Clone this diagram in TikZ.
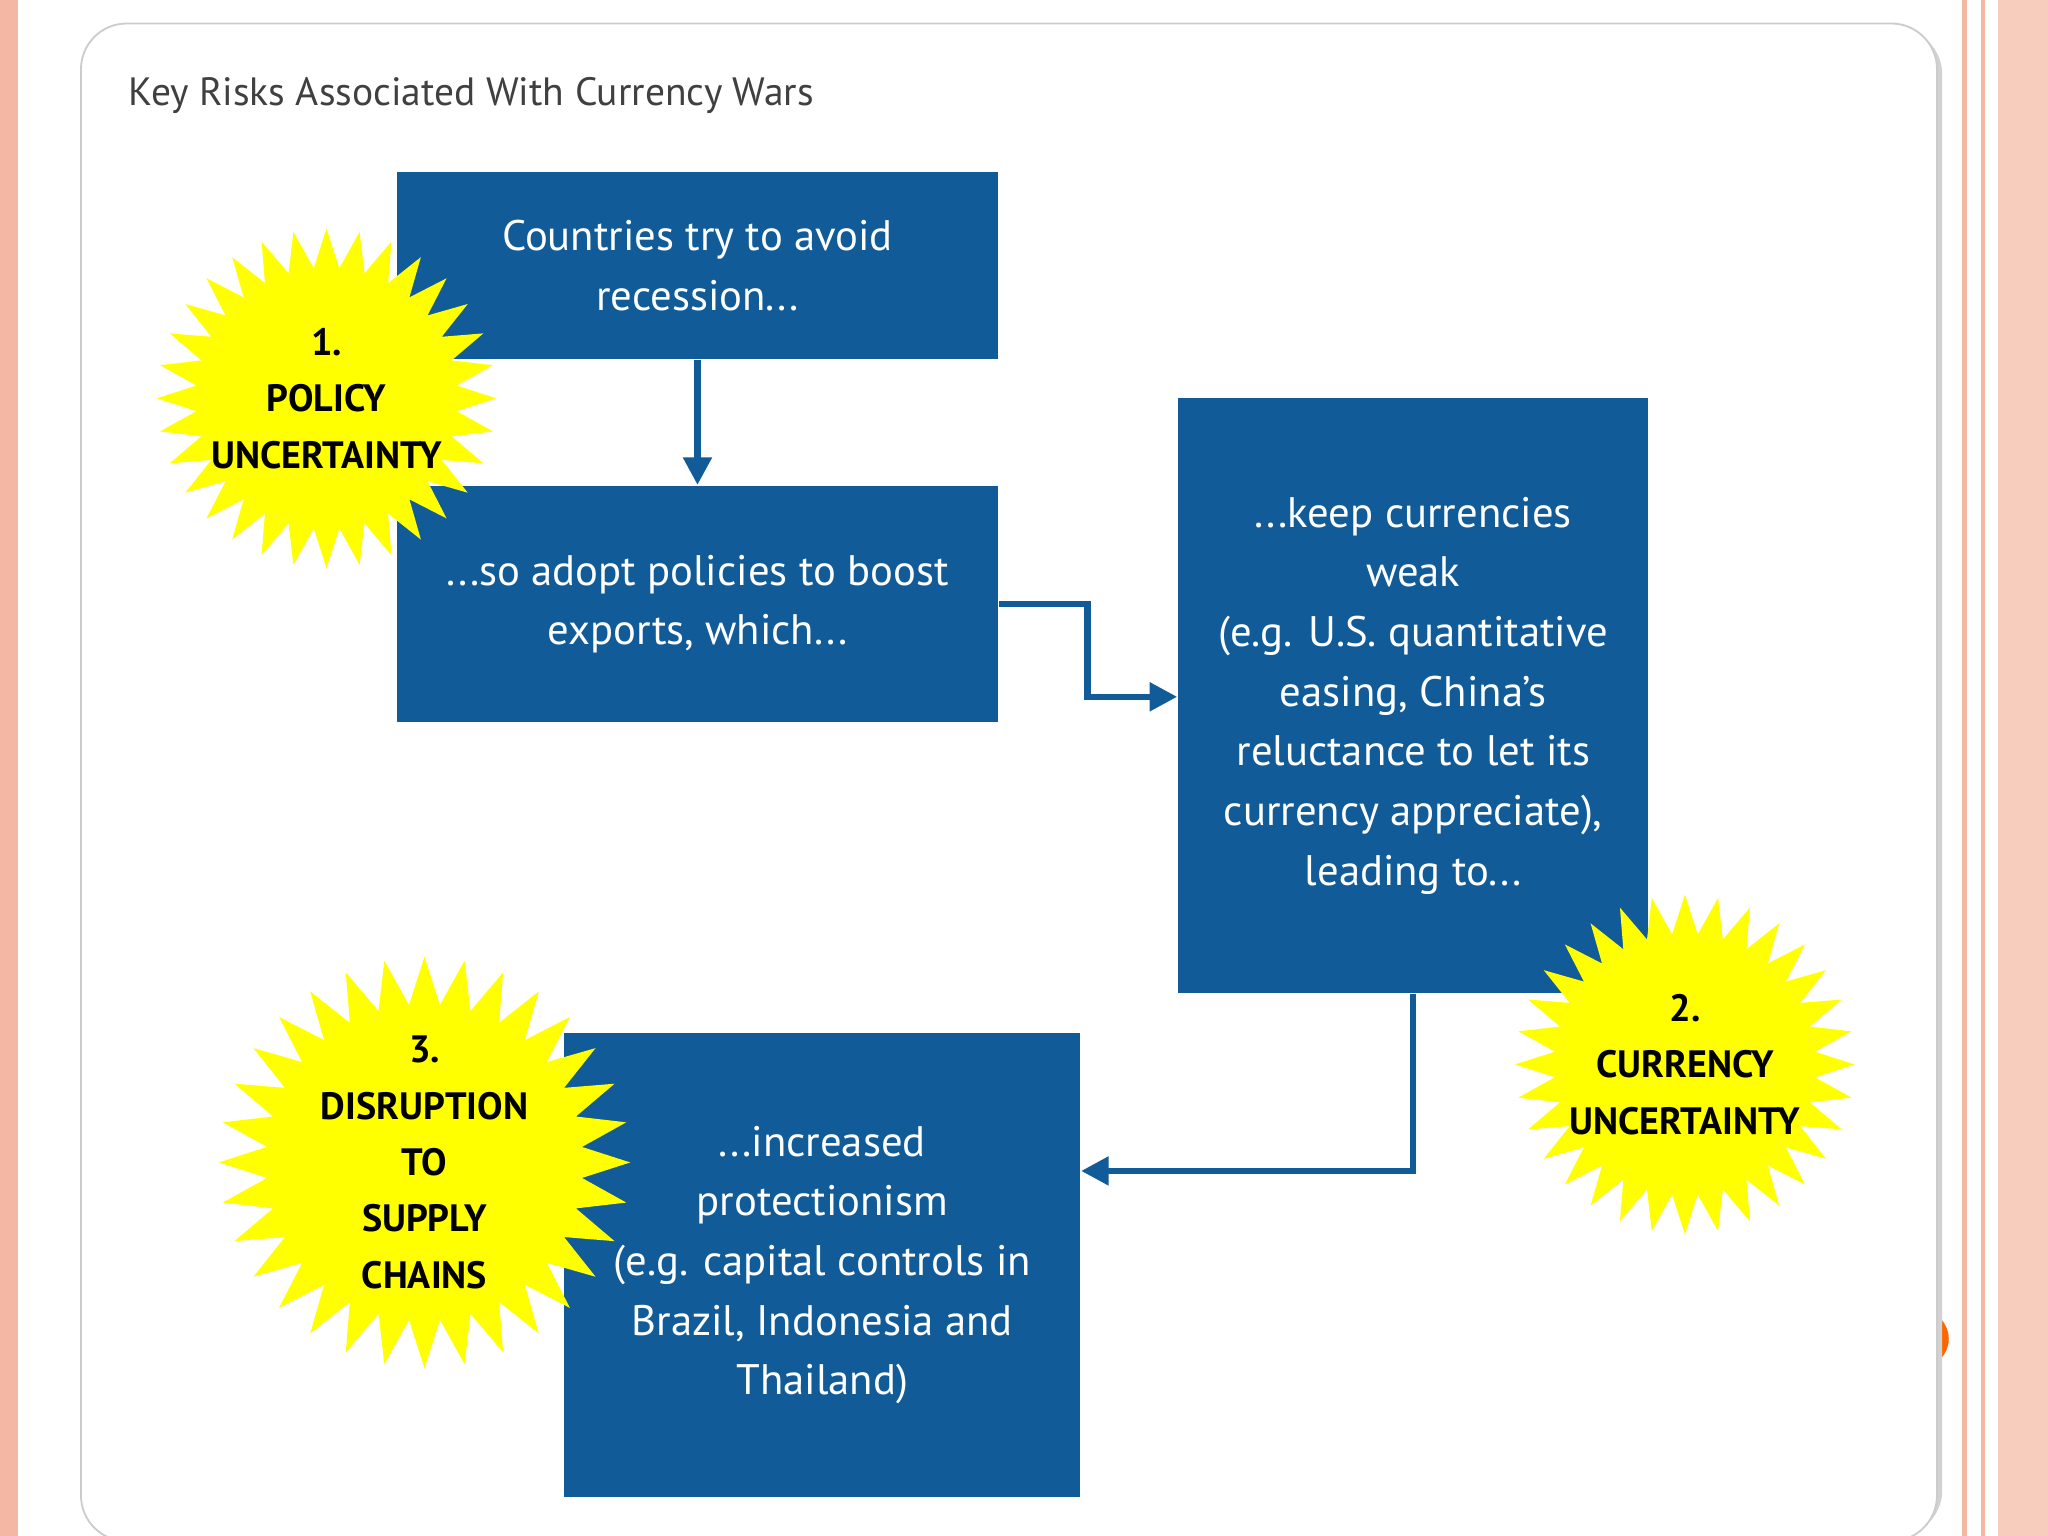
\documentclass[tikz,border=0pt]{standalone}
\usepackage{fontspec}
\setmainfont{PT Sans}
\usetikzlibrary{shapes.geometric,arrows.meta}
\definecolor{boxblue}{HTML}{115B98}
\definecolor{salmon}{HTML}{F4B7A3}
\definecolor{burst}{HTML}{FFFF00}
\tikzset{
  bbox/.style={fill=boxblue,draw=none,text=white,align=center,inner sep=0pt,font=\fontsize{9.3}{13}\selectfont},
  burststyle/.style={star,star points=32,star point ratio=1.3,fill=burst,draw=none,inner sep=0pt},
  bursttext/.style={align=center,inner sep=0pt,font=\bfseries\fontsize{8.3}{12.3}\selectfont},
  conn/.style={draw=boxblue,line width=1.4pt,-{Triangle[length=6pt,width=6pt]}}
}
\begin{document}
\begin{tikzpicture}
\useasboundingbox (0,0) rectangle (15.68,-11.76);
\fill[white] (0,0) rectangle (15.68,-11.76);
% side decorations
\fill[salmon] (0,0) rectangle (0.14,-11.76);
\fill[salmon] (15.02,0) rectangle (15.06,-11.76);
\fill[salmon] (15.17,0) rectangle (15.20,-11.76);
\fill[salmon!70] (15.30,0) rectangle (15.68,-11.76);
\fill[orange!80!red] (14.70,-10.25) circle (0.22);
% card
\fill[gray!35,rounded corners=0.35cm] (0.66,-0.22) rectangle (14.87,-11.76);
\draw[gray!40,fill=white,rounded corners=0.35cm] (0.62,-0.18) rectangle (14.83,-11.80);
\node[anchor=west,inner sep=0pt,text=black!75,font=\fontsize{8.6}{10}\selectfont] (title) at (0.98,-0.73) {Key Risks Associated With Currency Wars};
% boxes
\node[bbox,minimum width=4.6cm,minimum height=1.43cm] (b1) at (5.34,-2.035) {Countries try to avoid\\recession...};
\node[bbox,minimum width=4.6cm,minimum height=1.81cm] (b2) at (5.34,-4.625) {...so adopt policies to boost\\exports, which...};
\node[bbox,minimum width=3.6cm,minimum height=4.55cm] (b3) at (10.82,-5.325) {...keep currencies\\weak\\(e.g. U.S. quantitative\\easing, China's\\reluctance to let its\\currency appreciate),\\leading to...};
\node[bbox,minimum width=3.95cm,minimum height=3.55cm] (b4) at (6.295,-9.685) {...increased\\protectionism\\(e.g. capital controls in\\Brazil, Indonesia and\\Thailand)};
% connectors
\draw[conn] (b1.south) -- (b2.north);
\draw[conn] (b2.east) -- ++(0.68,0) |- ([yshift=-0.71cm]b2.east -| b3.west);
\draw[conn] (b3.south) |- ([yshift=0.72cm]b4.east);
% bursts
\node[burststyle,minimum size=2.6cm] (s1) at (2.5,-3.05) {};
\node[bursttext] (t1) at (s1) {1.\\POLICY\\UNCERTAINTY};
\node[burststyle,minimum size=2.6cm] (s2) at (12.9,-8.15) {};
\node[bursttext] (t2) at (s2) {2.\\CURRENCY\\UNCERTAINTY};
\node[burststyle,minimum size=3.15cm] (s3) at (3.25,-8.9) {};
\node[bursttext] (t3) at (s3) {3.\\DISRUPTION\\TO\\SUPPLY\\CHAINS};
\end{tikzpicture}
\end{document}
